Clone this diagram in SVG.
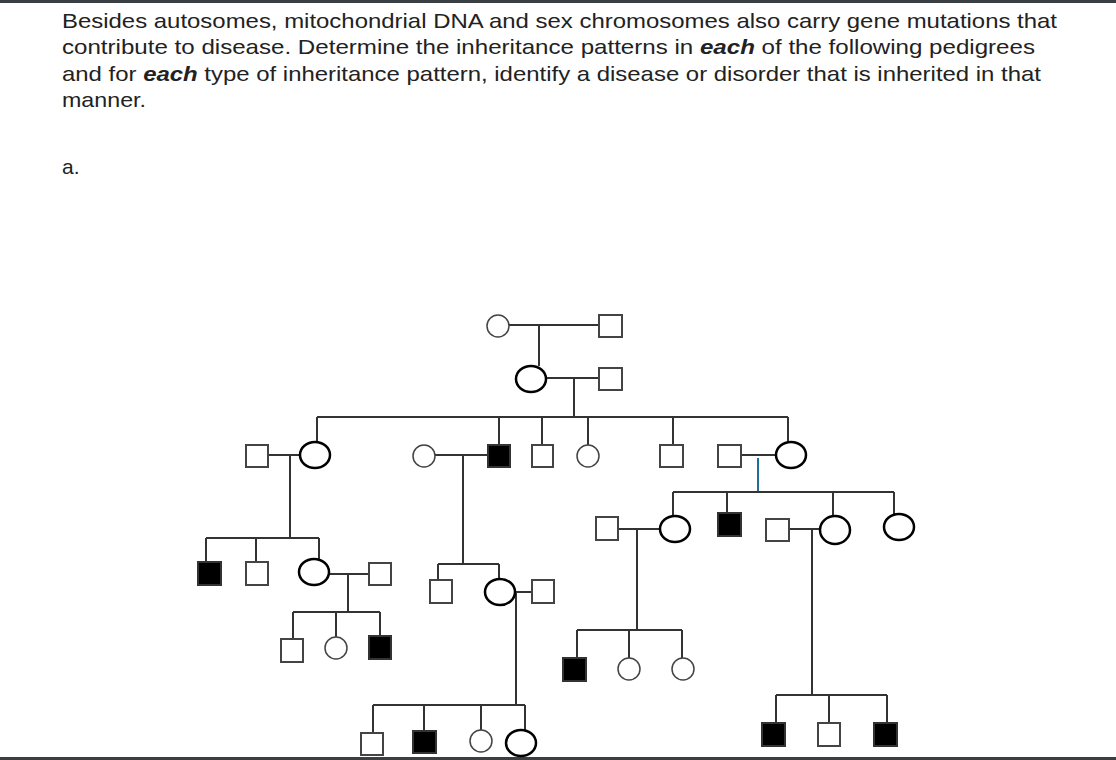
<svg xmlns="http://www.w3.org/2000/svg" width="1116" height="760" viewBox="0 0 1116 760">
<style>
text{font-family:"Liberation Sans",Arial,sans-serif;font-size:21px;fill:#222}
.l{stroke:#333;stroke-width:2;fill:none}
.s{fill:#fff;stroke:#444;stroke-width:2}
.a{fill:#000;stroke:#333;stroke-width:2}
.c{fill:#fff;stroke:#444;stroke-width:1.5}
.e{fill:#fff;stroke:#000;stroke-width:2.5}
</style>
<rect width="1116" height="760" fill="#fff"/>
<rect x="0" y="0" width="1116" height="3" fill="#3a3f44"/>
<rect x="0" y="757" width="1116" height="3" fill="#3a3f44"/>
<text x="62" y="28" textLength="995" lengthAdjust="spacingAndGlyphs">Besides autosomes, mitochondrial DNA and sex chromosomes also carry gene mutations that</text>
<text x="62" y="54" textLength="973" lengthAdjust="spacingAndGlyphs">contribute to disease.  Determine the inheritance patterns in <tspan font-weight="bold" font-style="italic">each</tspan> of the following pedigrees</text>
<text x="62" y="81" textLength="979" lengthAdjust="spacingAndGlyphs">and for <tspan font-weight="bold" font-style="italic">each</tspan> type of inheritance pattern, identify a disease or disorder that is inherited in that</text>
<text x="62" y="107" textLength="84" lengthAdjust="spacingAndGlyphs">manner.</text>
<text x="62" y="174">a.</text>
<g id="connectors">
<path class="l" d="M509 325H599M539 325V366M546 378H599M574 378V417M317 417H788M317 417V441M499 417V445M542 417V445M588 417V445M673 417V445M788 417V442"/>
<path class="l" d="M268 455H300M290 455V538M206 538H319M206 538V562M256 538V562M319 538V559M329 574H369M348 574V612M293 612H380M293 612V639M336 612V637M380 612V636"/>
<path class="l" d="M435 455H488M463 455V564M438 564H499M438 564V580M499 564V579M515 592H532M516 592V705M373 705H525M373 705V733M424 705V731M481 705V730M525 705V730"/>
<path d="M758 458V492" stroke="#1f6d99" stroke-width="2"/>
<path class="l" d="M741 455H776M673 492H894M673 492V516M727 492V513M833 492V516M894 492V514M618 529H660M637 529V630M577 630H682M577 630V658M629 630V658M682 630V658M789 529H820M812 529V695M776 695H887M776 695V723M829 695V723M887 695V723"/>
</g>
<g id="I1"><circle class="c" cx="498" cy="326" r="11"/></g>
<g id="I2"><rect class="s" x="599" y="315" width="23" height="22"/></g>
<g id="II1"><ellipse class="e" cx="531" cy="379" rx="15" ry="13"/></g>
<g id="II2"><rect class="s" x="599" y="368" width="23" height="22"/></g>
<g id="III1"><rect class="s" x="246" y="445" width="22" height="22"/></g>
<g id="III2"><ellipse class="e" cx="315" cy="455" rx="15" ry="13"/></g>
<g id="III3"><circle class="c" cx="424" cy="456" r="11"/></g>
<g id="III4"><rect class="a" x="488" y="445" width="22" height="22"/></g>
<g id="III5"><rect class="s" x="532" y="445" width="21" height="22"/></g>
<g id="III6"><circle class="c" cx="588" cy="456" r="11"/></g>
<g id="III7"><rect class="s" x="660" y="445" width="23" height="22"/></g>
<g id="III8"><rect class="s" x="718" y="445" width="23" height="22"/></g>
<g id="III9"><ellipse class="e" cx="791" cy="455" rx="15" ry="13"/></g>
<g id="IV1"><rect class="a" x="198" y="562" width="23" height="23"/></g>
<g id="IV2"><rect class="s" x="246" y="562" width="22" height="23"/></g>
<g id="IV3"><ellipse class="e" cx="314" cy="572" rx="15" ry="13"/></g>
<g id="IV4"><rect class="s" x="369" y="563" width="22" height="22"/></g>
<g id="IV5"><rect class="s" x="430" y="580" width="22" height="23"/></g>
<g id="IV6"><ellipse class="e" cx="500" cy="592" rx="15" ry="13"/></g>
<g id="IV7"><rect class="s" x="532" y="580" width="22" height="23"/></g>
<g id="IV8"><rect class="s" x="596" y="517" width="22" height="23"/></g>
<g id="IV9"><ellipse class="e" cx="675" cy="529" rx="15" ry="13"/></g>
<g id="IV10"><rect class="a" x="718" y="513" width="23" height="23"/></g>
<g id="IV11"><rect class="s" x="766" y="519" width="23" height="22"/></g>
<g id="IV12"><ellipse class="e" cx="835" cy="530" rx="15" ry="14"/></g>
<g id="IV13"><ellipse class="e" cx="899" cy="527" rx="15" ry="13"/></g>
<g id="V1"><rect class="s" x="281" y="639" width="22" height="23"/></g>
<g id="V2"><circle class="c" cx="336" cy="648" r="11"/></g>
<g id="V3"><rect class="a" x="369" y="636" width="22" height="23"/></g>
<g id="V4"><rect class="s" x="361" y="733" width="22" height="22"/></g>
<g id="V5"><rect class="a" x="413" y="731" width="23" height="22"/></g>
<g id="V6"><circle class="c" cx="481" cy="741" r="11"/></g>
<g id="V7"><ellipse class="e" cx="521" cy="743" rx="15" ry="13"/></g>
<g id="V8"><rect class="a" x="563" y="658" width="23" height="23"/></g>
<g id="V9"><circle class="c" cx="629" cy="669" r="11"/></g>
<g id="V10"><circle class="c" cx="683" cy="669" r="11"/></g>
<g id="V11"><rect class="a" x="762" y="723" width="23" height="23"/></g>
<g id="V12"><rect class="s" x="818" y="723" width="22" height="23"/></g>
<g id="V13"><rect class="a" x="874" y="723" width="23" height="23"/></g>
</svg>
